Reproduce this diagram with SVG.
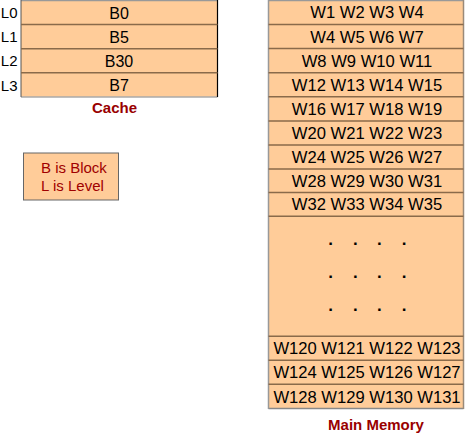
<svg xmlns="http://www.w3.org/2000/svg" width="467" height="433" viewBox="0 0 467 433">
<style>
.cell{fill:#FFCC99;stroke:none}
.sep{stroke:#8a6a4a;stroke-width:1.5}
.t{font-family:"Liberation Sans",Arial,sans-serif;fill:#000}
.w{font-size:16.6px;text-anchor:middle}
.b{font-size:16px;text-anchor:middle}
.l{font-size:15px;text-anchor:end}
.cap{font-family:"Liberation Sans",Arial,sans-serif;font-weight:bold;font-size:15px;fill:#990000;text-anchor:middle}
.leg{font-family:"Liberation Sans",Arial,sans-serif;font-size:15px;fill:#a00000}
.dot{font-family:"Liberation Sans",Arial,sans-serif;font-size:17px;font-weight:bold;text-anchor:middle;fill:#000}
</style>
<rect width="467" height="433" fill="#ffffff"/>
<g id="cache">
  <rect x="21" y="0.5" width="196.5" height="96.5" class="cell"/>
  <line x1="21" y1="0.5" x2="217.5" y2="0.5" stroke="#999" stroke-width="1.5"/>
  <line x1="21" y1="97" x2="217.5" y2="97" stroke="#aaa" stroke-width="1.5"/>
  <line x1="21" y1="0" x2="21" y2="97" stroke="#555" stroke-width="1"/>
  <line x1="217.5" y1="0" x2="217.5" y2="97" stroke="#000" stroke-width="1.2"/>
  <line x1="21" y1="24.5" x2="217.5" y2="24.5" class="sep"/>
  <line x1="21" y1="48.7" x2="217.5" y2="48.7" class="sep"/>
  <line x1="21" y1="72.8" x2="217.5" y2="72.8" class="sep"/>
  <text class="t b" x="119" y="19">B0</text>
  <text class="t b" x="119" y="43.3">B5</text>
  <text class="t b" x="119" y="67.3">B30</text>
  <text class="t b" x="119" y="91.3">B7</text>
  <text class="t l" x="17.5" y="17.8">L0</text>
  <text class="t l" x="17.5" y="42">L1</text>
  <text class="t l" x="17.5" y="66.2">L2</text>
  <text class="t l" x="17.5" y="90.6">L3</text>
  <text class="cap" x="114.5" y="113">Cache</text>
</g>
<g id="legend">
  <rect x="23.5" y="153" width="95" height="47" fill="#FFCC99" stroke="#666" stroke-width="1"/>
  <text class="leg" x="41" y="173.3">B is Block</text>
  <text class="leg" x="41" y="190.7">L is Level</text>
</g>
<g id="memory">
  <rect x="268.5" y="0.5" width="195" height="408" class="cell"/>
  <line x1="268.5" y1="0.5" x2="463.5" y2="0.5" stroke="#999" stroke-width="1.5"/>
  <line x1="268.5" y1="408.5" x2="463.5" y2="408.5" stroke="#888" stroke-width="1.5"/>
  <line x1="268.5" y1="0" x2="268.5" y2="409" stroke="#999" stroke-width="1.5"/>
  <line x1="463.5" y1="0" x2="463.5" y2="409" stroke="#9a8a7a" stroke-width="1.5"/>
  <g class="sep">
    <line x1="268.5" y1="24.4" x2="463.5" y2="24.4"/>
    <line x1="268.5" y1="48.6" x2="463.5" y2="48.6"/>
    <line x1="268.5" y1="72.7" x2="463.5" y2="72.7"/>
    <line x1="268.5" y1="96.8" x2="463.5" y2="96.8"/>
    <line x1="268.5" y1="120.9" x2="463.5" y2="120.9"/>
    <line x1="268.5" y1="145" x2="463.5" y2="145"/>
    <line x1="268.5" y1="169.1" x2="463.5" y2="169.1"/>
    <line x1="268.5" y1="192.5" x2="463.5" y2="192.5"/>
    <line x1="268.5" y1="216.2" x2="463.5" y2="216.2"/>
    <line x1="268.5" y1="336.2" x2="463.5" y2="336.2"/>
    <line x1="268.5" y1="360.2" x2="463.5" y2="360.2"/>
    <line x1="268.5" y1="384.3" x2="463.5" y2="384.3"/>
  </g>
  <text class="t w" x="367" y="18.4">W1 W2 W3 W4</text>
  <text class="t w" x="367" y="42.5">W4 W5 W6 W7</text>
  <text class="t w" x="367" y="66.6">W8 W9 W10 W11</text>
  <text class="t w" x="367" y="90.7">W12 W13 W14 W15</text>
  <text class="t w" x="367" y="114.8">W16 W17 W18 W19</text>
  <text class="t w" x="367" y="138.9">W20 W21 W22 W23</text>
  <text class="t w" x="367" y="163">W24 W25 W26 W27</text>
  <text class="t w" x="367" y="187">W28 W29 W30 W31</text>
  <text class="t w" x="367" y="210.4">W32 W33 W34 W35</text>
  <text class="dot" x="330.7" y="244.5">.</text>
  <text class="dot" x="355.3" y="244.5">.</text>
  <text class="dot" x="379.3" y="244.5">.</text>
  <text class="dot" x="404" y="244.5">.</text>
  <text class="dot" x="330.7" y="278">.</text>
  <text class="dot" x="355.3" y="278">.</text>
  <text class="dot" x="379.3" y="278">.</text>
  <text class="dot" x="404" y="278">.</text>
  <text class="dot" x="330.7" y="310.5">.</text>
  <text class="dot" x="355.3" y="310.5">.</text>
  <text class="dot" x="379.3" y="310.5">.</text>
  <text class="dot" x="404" y="310.5">.</text>
  <text class="t w" x="367" y="354.3">W120 W121 W122 W123</text>
  <text class="t w" x="367" y="378.4">W124 W125 W126 W127</text>
  <text class="t w" x="367" y="402.5">W128 W129 W130 W131</text>
  <text class="cap" x="376" y="430">Main Memory</text>
</g>
</svg>
